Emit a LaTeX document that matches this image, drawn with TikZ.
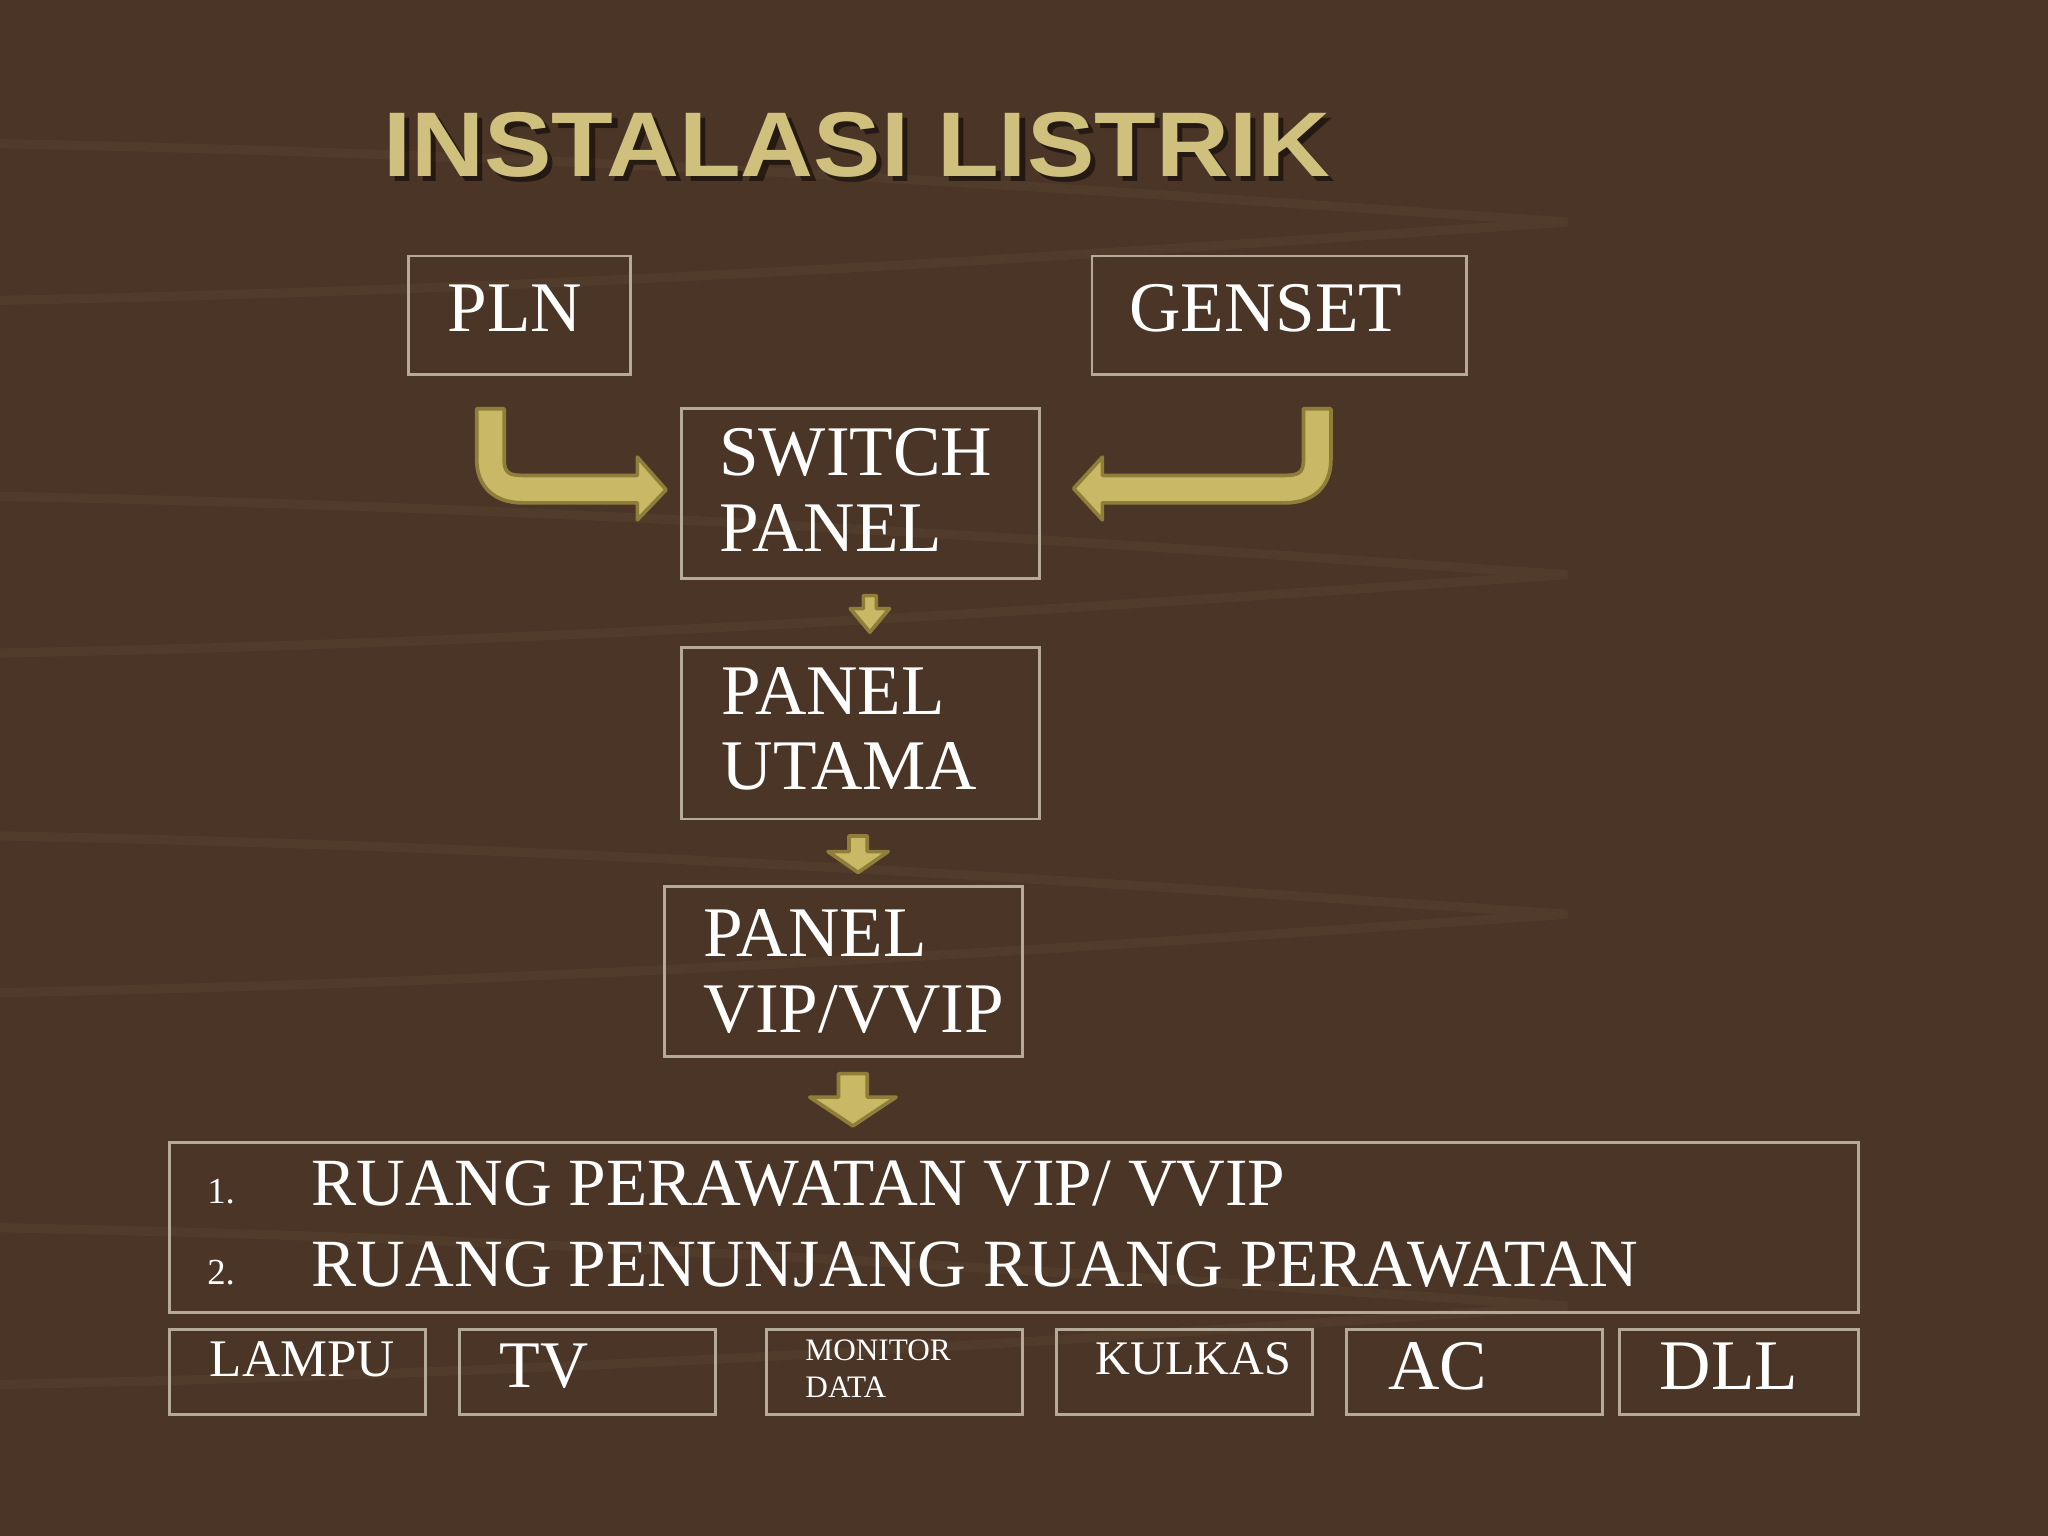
\documentclass[tikz,border=0pt]{standalone}
\usepackage{fontspec}
\setmainfont{Liberation Serif}
\newfontfamily\titlefont{Liberation Sans}
\begin{document}
\begin{tikzpicture}[x=0.01cm,y=-0.01cm]
\definecolor{wood}{HTML}{4A3527}
\definecolor{grain}{HTML}{57402D}
\definecolor{gold}{HTML}{C9B865}
\definecolor{golddk}{HTML}{8F7E3A}
\definecolor{titlec}{HTML}{CFC07E}
\definecolor{boxline}{HTML}{B5AA98}
\tikzset{
  box/.style={draw=boxline,line width=0.6pt},
  txt/.style={text=white,anchor=west,inner sep=0pt,align=left},
  blk/.style={fill=gold,draw=golddk,line width=0.8pt,line join=round},
  ttl/.style={inner sep=0pt,xscale=1.1,font=\titlefont\bfseries\fontsize{20}{24}\selectfont},
}
\fill[wood] (0,0) rectangle (1568,1176);
\useasboundingbox (0,0) rectangle (1568,1176);
% wood grain chevrons
\foreach \yy in {170,440,700,1000}{
  \draw[grain,line width=2pt,opacity=0.6] (0,\yy-60) .. controls (500,\yy-50) and (900,\yy-20) .. (1200,\yy) .. controls (900,\yy+20) and (500,\yy+50) .. (0,\yy+60);
}
% title
\node[ttl,text=black,opacity=0.5] at (660,115) {INSTALASI LISTRIK};
\node[ttl,text=titlec] (title) at (656,111) {INSTALASI LISTRIK};
% boxes
\draw[box] (313,196) rectangle (483,287);
\node[txt,font=\fontsize{15.5}{18}\selectfont] (pln) at (342,236) {PLN};
\draw[box] (836,196) rectangle (1123,287);
\node[txt,font=\fontsize{15.5}{18}\selectfont] (genset) at (864,236) {GENSET};
\draw[box] (522,313) rectangle (796,443);
\node[txt,font=\fontsize{15.5}{16.5}\selectfont] (switch) at (550,375) {SWITCH\\PANEL};
\draw[box] (522,496) rectangle (796,627);
\node[txt,font=\fontsize{15.5}{16.5}\selectfont] (utama) at (552,558) {PANEL\\UTAMA};
\draw[box] (509,679) rectangle (783,809);
\node[txt,font=\fontsize{15.5}{16.5}\selectfont] (vip) at (538,744) {PANEL\\VIP/VVIP};
\draw[box] (130,875) rectangle (1423,1005);
\node[txt,font=\fontsize{8}{9}\selectfont] (n1) at (158,912) {1.};
\node[txt,font=\fontsize{8}{9}\selectfont] (n2) at (158,974) {2.};
\node[txt,font=\fontsize{14.7}{17}\selectfont] (r1) at (238,906) {RUANG PERAWATAN VIP/ VVIP};
\node[txt,font=\fontsize{14.7}{17}\selectfont] (r2) at (238,968) {RUANG PENUNJANG RUANG PERAWATAN};
% bottom boxes
\foreach \a/\b in {130/326,352/548,587/783,809/1005,1031/1227,1240/1423}
  \draw[box] (\a,1018) rectangle (\b,1083);
\node[txt,font=\fontsize{11.5}{14}\selectfont] (lampu) at (160,1041) {LAMPU};
\node[txt,font=\fontsize{14.5}{17}\selectfont] (tv) at (382,1046) {TV};
\node[txt,font=\fontsize{6.8}{8}\selectfont] (mon) at (616,1048) {MONITOR\\DATA};
\node[txt,font=\fontsize{10.5}{13}\selectfont] (kulkas) at (838,1040) {KULKAS};
\node[txt,font=\fontsize{15.5}{18}\selectfont] (ac) at (1062,1046) {AC};
\node[txt,font=\fontsize{15.5}{18}\selectfont] (dll) at (1270,1046) {DLL};
% bent arrows
\draw[blk] (365,313) -- (386,313) -- (386,352) .. controls (386,362) and (390,364) .. (400,364) -- (488,364) -- (488,350) -- (510,375) -- (488,398) -- (488,385) -- (400,385) .. controls (378,385) and (365,372) .. (365,352) -- cycle;
\draw[blk] (1019,313) -- (998,313) -- (998,352) .. controls (998,362) and (994,364) .. (984,364) -- (844,364) -- (844,350) -- (822,374) -- (844,398) -- (844,385) -- (984,385) .. controls (1006,385) and (1019,372) .. (1019,352) -- cycle;
% down arrows
\draw[blk] (661,456) -- (671,456) -- (671,466) -- (681,466) -- (666,484) -- (651,466) -- (661,466) -- cycle;
\draw[blk] (650,640) -- (664,640) -- (664,652) -- (680,652) -- (657,668) -- (634,652) -- (650,652) -- cycle;
\draw[blk] (642,822) -- (664,822) -- (664,840) -- (686,840) -- (653,862) -- (620,840) -- (642,840) -- cycle;
\end{tikzpicture}
\end{document}
